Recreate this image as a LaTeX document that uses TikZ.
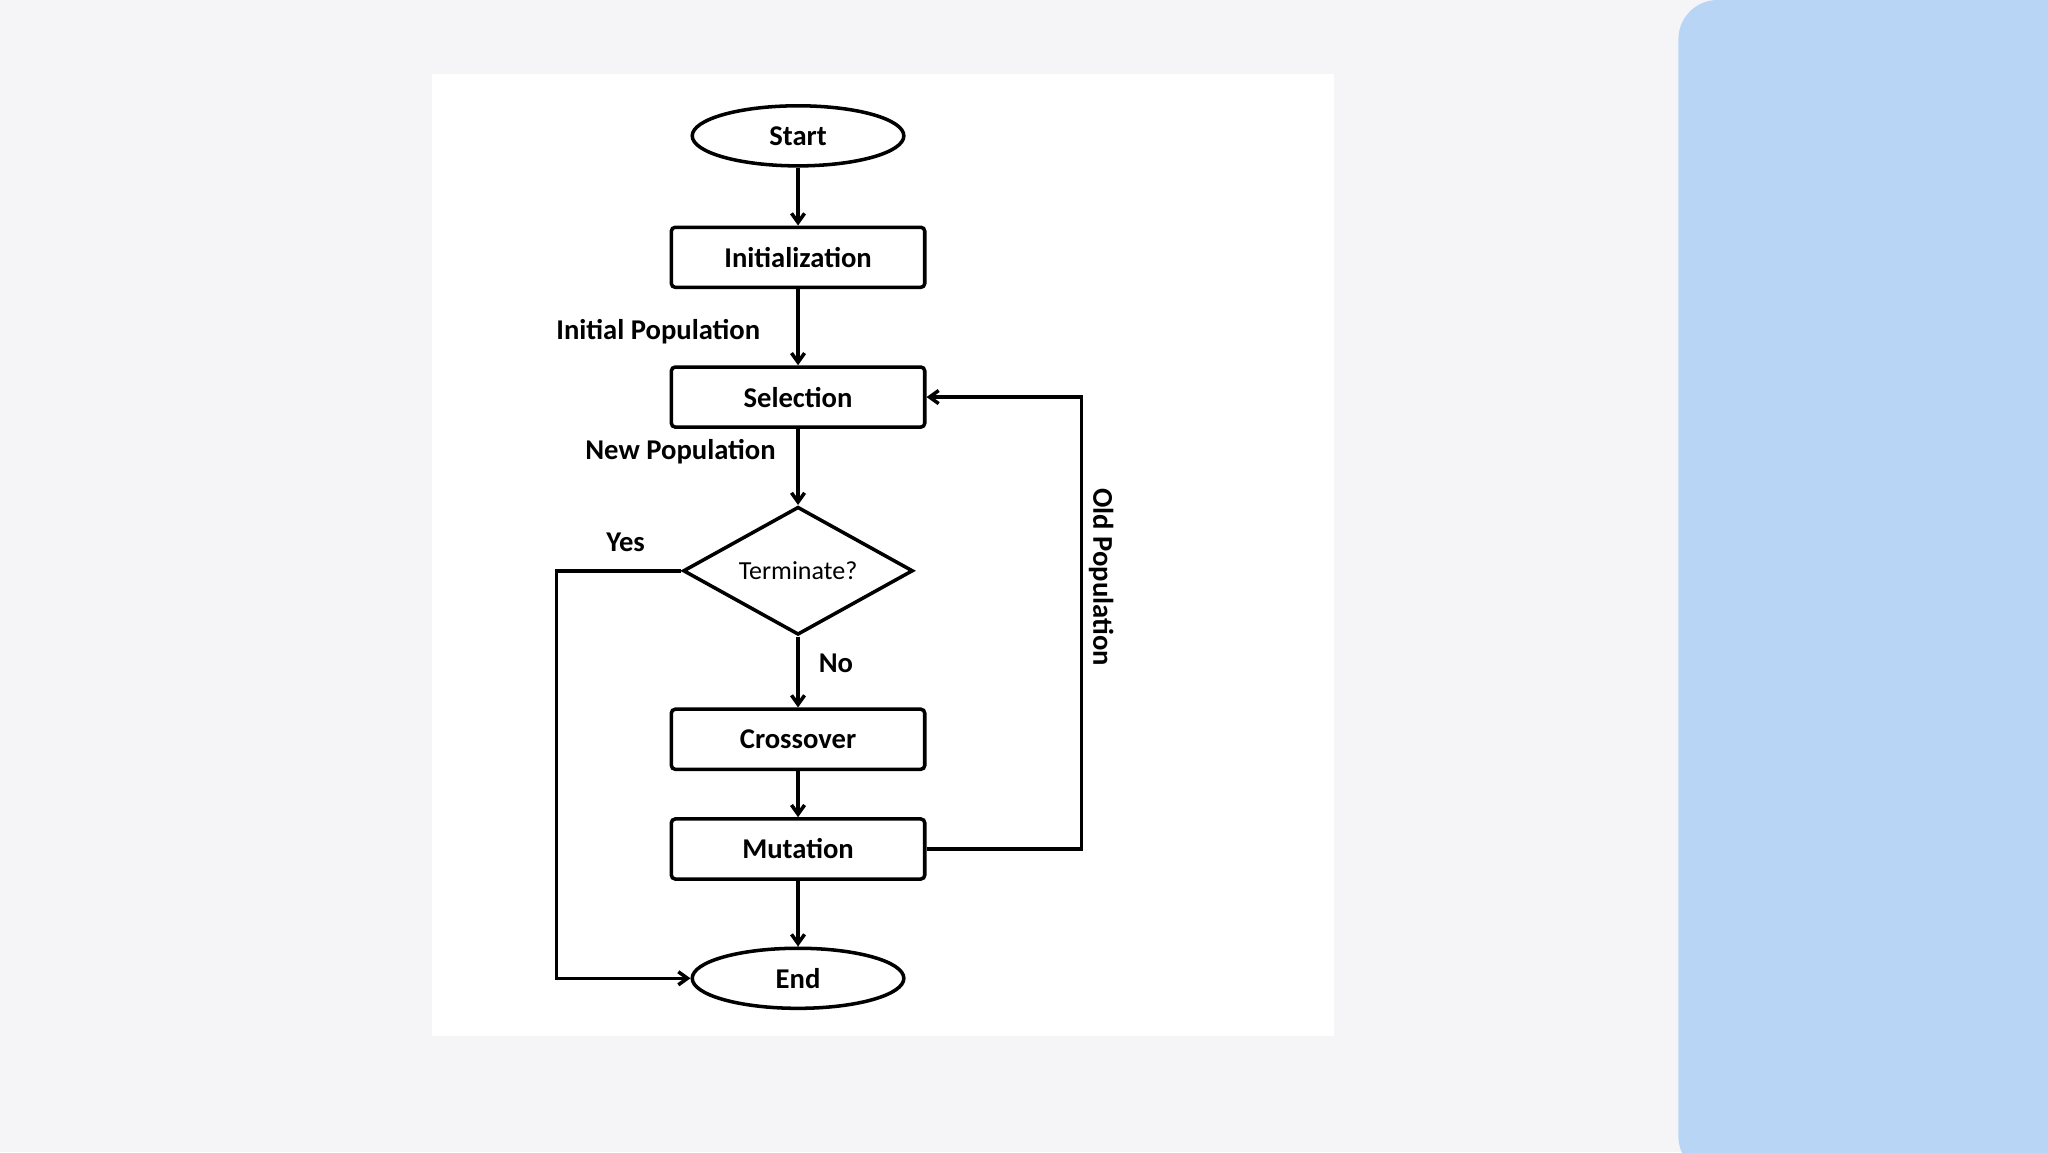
\documentclass[tikz,border=0pt]{standalone}
\usepackage{fontspec}
\setmainfont{Carlito}
\usetikzlibrary{shapes.geometric,arrows.meta}
\definecolor{bgc}{HTML}{F5F5F7}
\definecolor{panel}{HTML}{B9D5F5}
\begin{document}
\begin{tikzpicture}[x=1bp,y=-1bp,
  line width=2.7bp,
  box/.style={draw,rounded corners=3bp,minimum width=194bp,minimum height=46bp,font=\fontsize{22}{24}\selectfont\bfseries,inner sep=0},
  oval/.style={draw,ellipse,minimum width=162bp,minimum height=46bp,font=\fontsize{22}{24}\selectfont\bfseries,inner sep=0},
  lbl/.style={font=\fontsize{22}{24}\selectfont\bfseries,inner sep=0},
  arr/.style={-{Straight Barb[length=7bp,width=10bp]}}]
\fill[bgc] (0,0) rectangle (1568,882);
\useasboundingbox (0,0) rectangle (1568,882);
\fill[panel,rounded corners=30bp] (1285,0) rectangle (1600,900);
\fill[white] (331,57) rectangle (1021,793);
\node[oval] (start) at (611,104) {Start};
\node[box] (init) at (611,197) {Initialization};
\node[box] (sel) at (611,304) {Selection};
\node[draw,diamond,aspect=1.8,minimum width=176bp,minimum height=98bp,inner sep=0,font=\fontsize{20}{22}\selectfont] (term) at (611,437) {Terminate?};
\node[box] (cross) at (611,566) {Crossover};
\node[box] (mut) at (611,650) {Mutation};
\node[oval] (end) at (611,749) {End};
\coordinate (yc) at (426,437);
\coordinate (yd) at (426,749);
\coordinate (oc) at (828,650);
\coordinate (od) at (828,304);
\draw[arr] (start) -- (init);
\draw[arr] (init) -- (sel);
\draw[arr] (sel) -- (term);
\draw[arr] (term) -- (cross);
\draw[arr] (cross) -- (mut);
\draw[arr] (mut) -- (end);
\draw[arr] (term.west) -- (yc) -- (yd) -- (end.west);
\draw[arr] (mut.east) -- (oc) -- (od) -- (sel.east);
\node[lbl] (l1) at (504,254) {Initial Population};
\node[lbl] (l2) at (521,346) {New Population};
\node[lbl] (l3) at (479,415) {Yes};
\node[lbl] (l4) at (640,508) {No};
\node[lbl,rotate=-90] (l5) at (843,442) {Old Population};
\end{tikzpicture}
\end{document}
